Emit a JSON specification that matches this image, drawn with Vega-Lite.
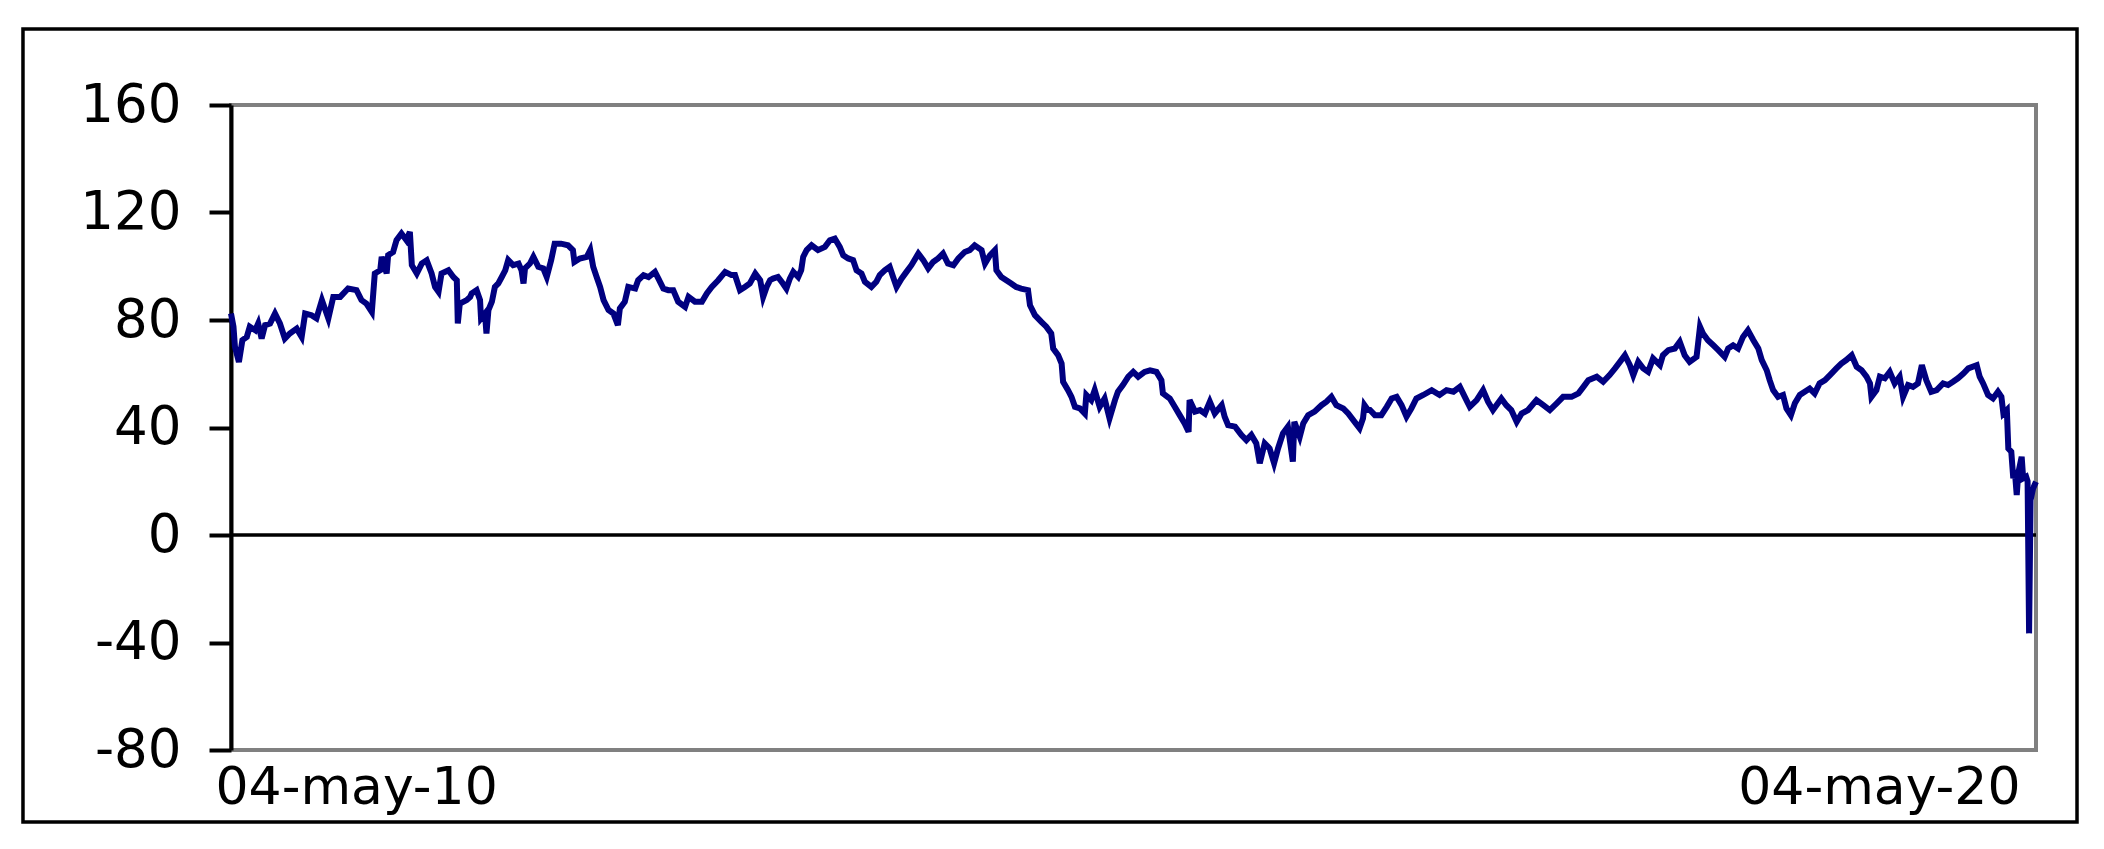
{
  "$schema": "https://vega.github.io/schema/vega-lite/v6.json",
  "width": 1805,
  "height": 645,
  "autosize": "none",
  "padding": {"left": 231, "top": 105, "right": 68, "bottom": 99},
  "background": "white",
  "config": {"view": {"stroke": "#808080", "strokeWidth": 4}},
  "layer": [
    {
      "data": {"values": [{}]},
      "mark": {"type": "rect", "filled": false, "stroke": "black", "strokeWidth": 3.5, "clip": false},
      "encoding": {
        "x": {"datum": {"year": 2009, "month": 3, "date": 9, "utc": true}, "type": "temporal"},
        "x2": {"datum": {"year": 2020, "month": 7, "date": 26, "utc": true}},
        "y": {"datum": 188.3, "type": "quantitative"},
        "y2": {"datum": -106.8}
      }
    },
    {
      "data": {"values": [{}]},
      "mark": {"type": "rule", "color": "black", "strokeWidth": 3.5},
      "encoding": {"y": {"datum": 0, "type": "quantitative"}}
    },
    {
      "data": {"values": [
        {"date": "2010-05-04", "price": 82.4}, {"date": "2010-05-09", "price": 77.5}, {"date": "2010-05-12", "price": 70.0},
        {"date": "2010-05-20", "price": 64.4}, {"date": "2010-05-27", "price": 72.5}, {"date": "2010-06-05", "price": 73.7},
        {"date": "2010-06-11", "price": 77.5}, {"date": "2010-06-22", "price": 76.2}, {"date": "2010-06-28", "price": 78.7},
        {"date": "2010-07-05", "price": 73.1}, {"date": "2010-07-12", "price": 78.1}, {"date": "2010-07-22", "price": 78.7},
        {"date": "2010-08-01", "price": 82.4}, {"date": "2010-08-11", "price": 78.7}, {"date": "2010-08-21", "price": 73.1},
        {"date": "2010-08-31", "price": 75.0}, {"date": "2010-09-14", "price": 76.8}, {"date": "2010-09-24", "price": 73.7},
        {"date": "2010-10-01", "price": 82.4}, {"date": "2010-10-14", "price": 81.8}, {"date": "2010-10-24", "price": 80.6},
        {"date": "2010-11-04", "price": 87.4}, {"date": "2010-11-17", "price": 80.6}, {"date": "2010-11-27", "price": 88.6},
        {"date": "2010-12-11", "price": 88.6}, {"date": "2010-12-27", "price": 91.7}, {"date": "2011-01-13", "price": 91.1},
        {"date": "2011-01-23", "price": 87.4}, {"date": "2011-02-02", "price": 86.1}, {"date": "2011-02-13", "price": 83.0},
        {"date": "2011-02-19", "price": 97.3}, {"date": "2011-03-02", "price": 98.5}, {"date": "2011-03-05", "price": 103.5},
        {"date": "2011-03-15", "price": 97.3}, {"date": "2011-03-18", "price": 104.1}, {"date": "2011-03-28", "price": 105.3},
        {"date": "2011-04-04", "price": 109.7}, {"date": "2011-04-14", "price": 112.2}, {"date": "2011-04-24", "price": 109.7},
        {"date": "2011-05-01", "price": 112.8}, {"date": "2011-05-05", "price": 100.4}, {"date": "2011-05-15", "price": 97.3},
        {"date": "2011-05-25", "price": 101.0}, {"date": "2011-06-04", "price": 102.2}, {"date": "2011-06-14", "price": 97.3},
        {"date": "2011-06-21", "price": 92.3}, {"date": "2011-06-28", "price": 90.5}, {"date": "2011-07-04", "price": 97.3},
        {"date": "2011-07-18", "price": 98.5}, {"date": "2011-07-28", "price": 96.0}, {"date": "2011-08-04", "price": 94.8},
        {"date": "2011-08-06", "price": 78.7}, {"date": "2011-08-10", "price": 86.1}, {"date": "2011-08-24", "price": 87.4},
        {"date": "2011-08-31", "price": 88.6}, {"date": "2011-09-03", "price": 89.9}, {"date": "2011-09-13", "price": 91.1},
        {"date": "2011-09-20", "price": 87.4}, {"date": "2011-09-22", "price": 80.6}, {"date": "2011-09-30", "price": 82.4},
        {"date": "2011-10-03", "price": 75.0}, {"date": "2011-10-07", "price": 83.7}, {"date": "2011-10-14", "price": 86.8},
        {"date": "2011-10-20", "price": 92.3}, {"date": "2011-10-27", "price": 93.6}, {"date": "2011-11-03", "price": 96.0},
        {"date": "2011-11-10", "price": 98.5}, {"date": "2011-11-16", "price": 102.3}, {"date": "2011-11-26", "price": 100.4},
        {"date": "2011-12-07", "price": 101.0}, {"date": "2011-12-13", "price": 98.5}, {"date": "2011-12-17", "price": 93.6},
        {"date": "2011-12-20", "price": 99.2}, {"date": "2011-12-30", "price": 101.0}, {"date": "2012-01-06", "price": 103.5},
        {"date": "2012-01-16", "price": 99.8}, {"date": "2012-01-26", "price": 99.2}, {"date": "2012-02-02", "price": 96.0},
        {"date": "2012-02-11", "price": 102.3}, {"date": "2012-02-18", "price": 108.4}, {"date": "2012-03-02", "price": 108.4},
        {"date": "2012-03-16", "price": 107.8}, {"date": "2012-03-26", "price": 106.0}, {"date": "2012-03-29", "price": 101.6},
        {"date": "2012-04-09", "price": 102.9}, {"date": "2012-04-23", "price": 103.5}, {"date": "2012-04-30", "price": 106.0},
        {"date": "2012-05-06", "price": 99.8}, {"date": "2012-05-13", "price": 96.0}, {"date": "2012-05-20", "price": 92.3},
        {"date": "2012-05-27", "price": 87.4}, {"date": "2012-06-06", "price": 83.7}, {"date": "2012-06-16", "price": 82.4},
        {"date": "2012-06-25", "price": 78.1}, {"date": "2012-06-29", "price": 84.3}, {"date": "2012-07-09", "price": 86.8},
        {"date": "2012-07-16", "price": 92.3}, {"date": "2012-07-30", "price": 91.7}, {"date": "2012-08-05", "price": 94.8},
        {"date": "2012-08-16", "price": 96.7}, {"date": "2012-08-26", "price": 96.0}, {"date": "2012-09-08", "price": 97.9},
        {"date": "2012-09-15", "price": 95.4}, {"date": "2012-09-25", "price": 91.7}, {"date": "2012-10-05", "price": 91.1},
        {"date": "2012-10-15", "price": 91.1}, {"date": "2012-10-25", "price": 86.8}, {"date": "2012-11-08", "price": 84.9},
        {"date": "2012-11-15", "price": 88.6}, {"date": "2012-11-28", "price": 86.8}, {"date": "2012-12-12", "price": 86.8},
        {"date": "2012-12-22", "price": 89.9}, {"date": "2013-01-01", "price": 92.3}, {"date": "2013-01-14", "price": 94.8},
        {"date": "2013-01-28", "price": 97.9}, {"date": "2013-02-10", "price": 96.7}, {"date": "2013-02-17", "price": 96.7},
        {"date": "2013-02-27", "price": 91.1}, {"date": "2013-03-09", "price": 92.3}, {"date": "2013-03-19", "price": 93.6},
        {"date": "2013-03-30", "price": 97.3}, {"date": "2013-04-09", "price": 94.8}, {"date": "2013-04-15", "price": 88.6},
        {"date": "2013-04-22", "price": 92.3}, {"date": "2013-04-29", "price": 94.8}, {"date": "2013-05-05", "price": 95.4},
        {"date": "2013-05-15", "price": 96.0}, {"date": "2013-05-25", "price": 93.6}, {"date": "2013-06-01", "price": 91.7},
        {"date": "2013-06-08", "price": 95.4}, {"date": "2013-06-15", "price": 97.9}, {"date": "2013-06-25", "price": 96.0},
        {"date": "2013-07-01", "price": 98.5}, {"date": "2013-07-05", "price": 103.5}, {"date": "2013-07-12", "price": 106.0},
        {"date": "2013-07-22", "price": 107.8}, {"date": "2013-08-04", "price": 106.0}, {"date": "2013-08-18", "price": 107.2},
        {"date": "2013-08-28", "price": 109.7}, {"date": "2013-09-07", "price": 110.3}, {"date": "2013-09-17", "price": 107.2},
        {"date": "2013-09-24", "price": 104.1}, {"date": "2013-10-04", "price": 102.9}, {"date": "2013-10-14", "price": 102.3},
        {"date": "2013-10-21", "price": 98.5}, {"date": "2013-10-31", "price": 97.3}, {"date": "2013-11-07", "price": 94.2},
        {"date": "2013-11-20", "price": 92.3}, {"date": "2013-11-30", "price": 94.2}, {"date": "2013-12-07", "price": 96.7},
        {"date": "2013-12-17", "price": 98.5}, {"date": "2013-12-27", "price": 99.8}, {"date": "2014-01-03", "price": 96.0},
        {"date": "2014-01-10", "price": 92.3}, {"date": "2014-01-20", "price": 95.4}, {"date": "2014-01-30", "price": 97.9},
        {"date": "2014-02-09", "price": 100.4}, {"date": "2014-02-23", "price": 104.7}, {"date": "2014-03-05", "price": 102.3},
        {"date": "2014-03-15", "price": 99.2}, {"date": "2014-03-25", "price": 101.6}, {"date": "2014-04-04", "price": 102.9},
        {"date": "2014-04-14", "price": 104.7}, {"date": "2014-04-24", "price": 101.0}, {"date": "2014-05-05", "price": 100.4},
        {"date": "2014-05-15", "price": 102.9}, {"date": "2014-05-28", "price": 105.3}, {"date": "2014-06-07", "price": 106.0},
        {"date": "2014-06-17", "price": 107.8}, {"date": "2014-07-01", "price": 106.0}, {"date": "2014-07-08", "price": 101.0},
        {"date": "2014-07-18", "price": 104.1}, {"date": "2014-07-28", "price": 106.0}, {"date": "2014-07-31", "price": 98.5},
        {"date": "2014-08-10", "price": 96.0}, {"date": "2014-08-20", "price": 94.8}, {"date": "2014-08-30", "price": 93.6},
        {"date": "2014-09-09", "price": 92.3}, {"date": "2014-09-19", "price": 91.7}, {"date": "2014-10-03", "price": 91.1},
        {"date": "2014-10-07", "price": 85.5}, {"date": "2014-10-17", "price": 81.8}, {"date": "2014-10-30", "price": 79.3},
        {"date": "2014-11-09", "price": 77.5}, {"date": "2014-11-19", "price": 75.0}, {"date": "2014-11-23", "price": 69.4},
        {"date": "2014-12-03", "price": 66.9}, {"date": "2014-12-10", "price": 63.8}, {"date": "2014-12-13", "price": 57.0},
        {"date": "2014-12-23", "price": 53.9}, {"date": "2014-12-30", "price": 51.4}, {"date": "2015-01-06", "price": 47.7},
        {"date": "2015-01-16", "price": 47.1}, {"date": "2015-01-26", "price": 45.2}, {"date": "2015-01-29", "price": 52.1},
        {"date": "2015-02-08", "price": 50.2}, {"date": "2015-02-15", "price": 53.9}, {"date": "2015-02-25", "price": 47.7},
        {"date": "2015-03-07", "price": 50.8}, {"date": "2015-03-17", "price": 43.4}, {"date": "2015-03-28", "price": 50.2},
        {"date": "2015-04-03", "price": 53.3}, {"date": "2015-04-13", "price": 55.8}, {"date": "2015-04-24", "price": 58.9},
        {"date": "2015-05-04", "price": 60.7}, {"date": "2015-05-14", "price": 58.9}, {"date": "2015-05-27", "price": 60.7},
        {"date": "2015-06-07", "price": 61.3}, {"date": "2015-06-20", "price": 60.7}, {"date": "2015-06-30", "price": 57.6},
        {"date": "2015-07-03", "price": 52.7}, {"date": "2015-07-17", "price": 50.8}, {"date": "2015-07-27", "price": 47.7},
        {"date": "2015-08-06", "price": 44.6}, {"date": "2015-08-16", "price": 41.5}, {"date": "2015-08-24", "price": 38.4},
        {"date": "2015-08-26", "price": 50.2}, {"date": "2015-09-06", "price": 45.9}, {"date": "2015-09-16", "price": 46.5},
        {"date": "2015-09-26", "price": 45.2}, {"date": "2015-10-06", "price": 49.6}, {"date": "2015-10-16", "price": 45.2},
        {"date": "2015-10-30", "price": 48.3}, {"date": "2015-11-05", "price": 44.0}, {"date": "2015-11-12", "price": 40.9},
        {"date": "2015-11-26", "price": 40.3}, {"date": "2015-12-09", "price": 37.2}, {"date": "2015-12-19", "price": 35.3},
        {"date": "2015-12-29", "price": 37.2}, {"date": "2016-01-08", "price": 34.1}, {"date": "2016-01-15", "price": 26.7},
        {"date": "2016-01-25", "price": 34.1}, {"date": "2016-02-04", "price": 32.2}, {"date": "2016-02-13", "price": 26.7},
        {"date": "2016-02-21", "price": 32.2}, {"date": "2016-03-02", "price": 37.8}, {"date": "2016-03-12", "price": 40.3},
        {"date": "2016-03-22", "price": 27.3}, {"date": "2016-03-25", "price": 42.1}, {"date": "2016-04-05", "price": 36.6},
        {"date": "2016-04-12", "price": 41.5}, {"date": "2016-04-22", "price": 44.6}, {"date": "2016-05-05", "price": 45.9},
        {"date": "2016-05-19", "price": 48.3}, {"date": "2016-05-29", "price": 49.6}, {"date": "2016-06-08", "price": 51.4},
        {"date": "2016-06-18", "price": 48.3}, {"date": "2016-07-02", "price": 47.1}, {"date": "2016-07-12", "price": 45.2},
        {"date": "2016-07-25", "price": 42.1}, {"date": "2016-08-04", "price": 39.7}, {"date": "2016-08-11", "price": 43.4},
        {"date": "2016-08-14", "price": 48.3}, {"date": "2016-08-21", "price": 46.5}, {"date": "2016-08-25", "price": 46.5},
        {"date": "2016-09-04", "price": 44.6}, {"date": "2016-09-17", "price": 44.6}, {"date": "2016-09-28", "price": 47.7},
        {"date": "2016-10-08", "price": 50.8}, {"date": "2016-10-18", "price": 51.4}, {"date": "2016-10-28", "price": 48.3},
        {"date": "2016-11-07", "price": 44.0}, {"date": "2016-11-17", "price": 47.1}, {"date": "2016-11-27", "price": 50.8},
        {"date": "2016-12-11", "price": 52.1}, {"date": "2016-12-28", "price": 53.9}, {"date": "2017-01-13", "price": 52.1},
        {"date": "2017-01-27", "price": 53.9}, {"date": "2017-02-10", "price": 53.3}, {"date": "2017-02-23", "price": 55.1},
        {"date": "2017-03-05", "price": 51.4}, {"date": "2017-03-15", "price": 47.7}, {"date": "2017-03-29", "price": 50.2},
        {"date": "2017-04-11", "price": 53.9}, {"date": "2017-04-21", "price": 49.6}, {"date": "2017-05-01", "price": 46.5},
        {"date": "2017-05-18", "price": 50.8}, {"date": "2017-05-28", "price": 48.3}, {"date": "2017-06-07", "price": 46.5},
        {"date": "2017-06-18", "price": 42.1}, {"date": "2017-06-28", "price": 45.2}, {"date": "2017-07-11", "price": 46.5},
        {"date": "2017-07-28", "price": 50.2}, {"date": "2017-08-11", "price": 48.3}, {"date": "2017-08-24", "price": 46.5},
        {"date": "2017-09-07", "price": 49.0}, {"date": "2017-09-20", "price": 51.4}, {"date": "2017-10-07", "price": 51.4},
        {"date": "2017-10-21", "price": 52.7}, {"date": "2017-10-31", "price": 55.1}, {"date": "2017-11-10", "price": 57.6},
        {"date": "2017-11-27", "price": 58.9}, {"date": "2017-12-10", "price": 57.0}, {"date": "2017-12-23", "price": 59.5},
        {"date": "2018-01-03", "price": 62.0}, {"date": "2018-01-13", "price": 64.4}, {"date": "2018-01-23", "price": 66.9},
        {"date": "2018-02-02", "price": 63.2}, {"date": "2018-02-09", "price": 59.5}, {"date": "2018-02-19", "price": 64.4},
        {"date": "2018-03-01", "price": 62.0}, {"date": "2018-03-11", "price": 60.7}, {"date": "2018-03-21", "price": 65.7},
        {"date": "2018-04-04", "price": 63.2}, {"date": "2018-04-10", "price": 66.9}, {"date": "2018-04-21", "price": 68.8},
        {"date": "2018-05-04", "price": 69.4}, {"date": "2018-05-14", "price": 71.9}, {"date": "2018-05-24", "price": 66.9},
        {"date": "2018-06-03", "price": 64.4}, {"date": "2018-06-17", "price": 66.3}, {"date": "2018-06-24", "price": 77.5},
        {"date": "2018-06-30", "price": 75.0}, {"date": "2018-07-10", "price": 72.5}, {"date": "2018-07-21", "price": 70.6},
        {"date": "2018-07-31", "price": 68.8}, {"date": "2018-08-13", "price": 66.3}, {"date": "2018-08-20", "price": 69.4},
        {"date": "2018-08-30", "price": 70.6}, {"date": "2018-09-09", "price": 69.4}, {"date": "2018-09-19", "price": 73.7},
        {"date": "2018-09-29", "price": 76.2}, {"date": "2018-10-10", "price": 72.5}, {"date": "2018-10-20", "price": 69.4},
        {"date": "2018-10-27", "price": 65.1}, {"date": "2018-11-06", "price": 61.3}, {"date": "2018-11-12", "price": 57.6},
        {"date": "2018-11-19", "price": 53.9}, {"date": "2018-11-29", "price": 51.4}, {"date": "2018-12-09", "price": 52.1},
        {"date": "2018-12-16", "price": 47.1}, {"date": "2018-12-25", "price": 44.6}, {"date": "2019-01-02", "price": 49.0},
        {"date": "2019-01-12", "price": 52.1}, {"date": "2019-01-22", "price": 53.3}, {"date": "2019-02-01", "price": 54.5},
        {"date": "2019-02-11", "price": 52.7}, {"date": "2019-02-21", "price": 56.4}, {"date": "2019-03-04", "price": 57.6},
        {"date": "2019-03-14", "price": 59.5}, {"date": "2019-03-27", "price": 62.0}, {"date": "2019-04-06", "price": 63.8},
        {"date": "2019-04-16", "price": 65.1}, {"date": "2019-04-27", "price": 66.9}, {"date": "2019-05-07", "price": 62.6},
        {"date": "2019-05-17", "price": 61.3}, {"date": "2019-05-27", "price": 58.9}, {"date": "2019-06-03", "price": 56.4},
        {"date": "2019-06-06", "price": 51.4}, {"date": "2019-06-16", "price": 53.9}, {"date": "2019-06-23", "price": 58.9},
        {"date": "2019-07-03", "price": 58.3}, {"date": "2019-07-13", "price": 60.7}, {"date": "2019-07-23", "price": 56.4},
        {"date": "2019-08-02", "price": 58.9}, {"date": "2019-08-09", "price": 51.4}, {"date": "2019-08-19", "price": 55.8},
        {"date": "2019-08-29", "price": 55.1}, {"date": "2019-09-08", "price": 56.4}, {"date": "2019-09-16", "price": 63.2},
        {"date": "2019-09-25", "price": 57.6}, {"date": "2019-10-05", "price": 53.3}, {"date": "2019-10-16", "price": 53.9},
        {"date": "2019-10-29", "price": 56.4}, {"date": "2019-11-08", "price": 55.8}, {"date": "2019-11-18", "price": 57.0},
        {"date": "2019-11-28", "price": 58.3}, {"date": "2019-12-09", "price": 60.1}, {"date": "2019-12-19", "price": 62.0},
        {"date": "2020-01-05", "price": 63.2}, {"date": "2020-01-11", "price": 58.9}, {"date": "2020-01-18", "price": 56.4},
        {"date": "2020-01-28", "price": 52.1}, {"date": "2020-02-07", "price": 50.8}, {"date": "2020-02-17", "price": 53.3},
        {"date": "2020-02-24", "price": 51.4}, {"date": "2020-02-28", "price": 45.2}, {"date": "2020-03-06", "price": 46.5},
        {"date": "2020-03-09", "price": 32.2}, {"date": "2020-03-15", "price": 31.0}, {"date": "2020-03-19", "price": 21.1},
        {"date": "2020-03-22", "price": 24.2}, {"date": "2020-03-26", "price": 14.9}, {"date": "2020-03-29", "price": 22.9},
        {"date": "2020-04-05", "price": 29.1}, {"date": "2020-04-08", "price": 21.1}, {"date": "2020-04-14", "price": 21.7},
        {"date": "2020-04-17", "price": 20.0}, {"date": "2020-04-20", "price": -36.6}, {"date": "2020-04-23", "price": 13.0},
        {"date": "2020-04-28", "price": 17.3}, {"date": "2020-05-04", "price": 19.8}
      ]},
      "mark": {"type": "line", "color": "#000080", "strokeWidth": 6},
      "encoding": {
        "x": {
          "field": "date", "type": "temporal",
          "scale": {"domain": [{"year": 2010, "month": 5, "date": 4, "utc": true}, {"year": 2020, "month": 5, "date": 4, "utc": true}]},
          "axis": {
            "title": null,
            "values": [{"year": 2010, "month": 5, "date": 4, "utc": true}, {"year": 2020, "month": 5, "date": 4, "utc": true}],
            "labelExpr": "lower(utcFormat(datum.value, '%d-%b-%y'))",
            "labelFlush": true,
            "labelOffset": -16,
            "labelOverlap": false,
            "labelLimit": 0,
            "domain": false,
            "ticks": false,
            "grid": false,
            "labelFont": "DejaVu Sans",
            "labelFontSize": 52,
            "labelColor": "black",
            "labelPadding": 12
          }
        },
        "y": {
          "field": "price", "type": "quantitative",
          "scale": {"domain": [-80, 160], "nice": false, "zero": false},
          "axis": {
            "title": null,
            "values": [-80, -40, 0, 40, 80, 120, 160],
            "labelExpr": "'' + datum.value",
            "labelOverlap": false,
            "labelFlush": false,
            "labelLimit": 0,
            "domain": true,
            "domainColor": "black",
            "domainWidth": 4,
            "ticks": true,
            "tickColor": "black",
            "tickWidth": 4,
            "tickSize": 22,
            "grid": false,
            "labelFont": "DejaVu Sans",
            "labelFontSize": 53,
            "labelColor": "black",
            "labelPadding": 28
          }
        }
      }
    }
  ]
}
